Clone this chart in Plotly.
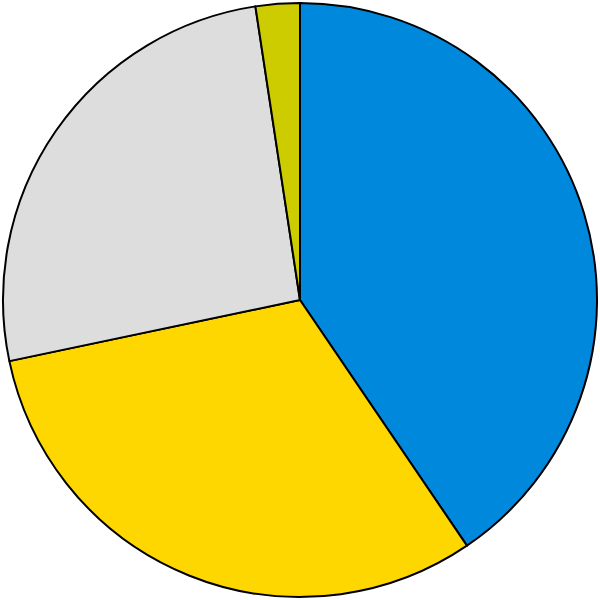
import plotly.graph_objects as go

# slice data, clockwise from 12 o'clock
labels = ["Blue", "Yellow", "Grey", "Olive"]
values = [40.5, 31.2, 25.9, 2.4]
colors = ["#0088DD", "#FFD700", "#DDDDDD", "#CCCC00"]

fig = go.Figure(go.Pie(
    labels=labels,
    values=values,
    sort=False,
    direction="clockwise",
    rotation=0,
    textinfo="none",
    hoverinfo="label+percent",
    marker=dict(colors=colors, line=dict(color="black", width=2)),
))

fig.update_layout(
    width=600, height=600,
    margin=dict(l=3, r=3, t=3, b=3),
    showlegend=False,
    paper_bgcolor="white",
)

# drop the browser's default body margin so the chart sits at (0, 0)
fig.write_html("out.html", config={"displayModeBar": False},
               post_script="document.body.style.margin='0';")
